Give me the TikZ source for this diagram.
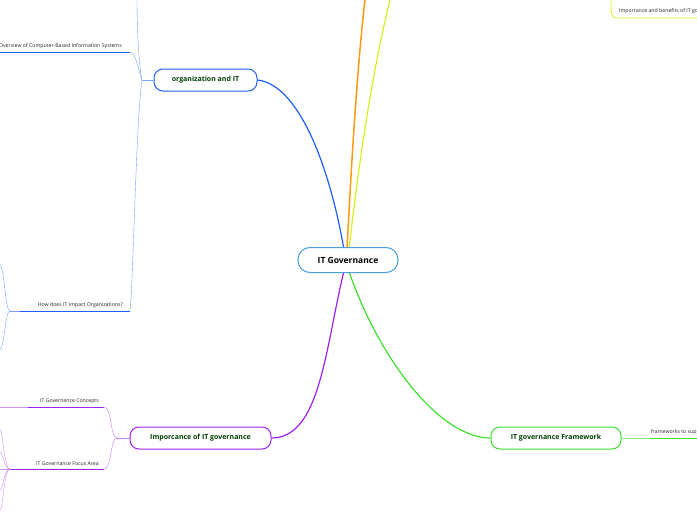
\documentclass[tikz,border=0pt]{standalone}
\usepackage{fontspec}
\setmainfont{Open Sans}
\begin{document}
\begin{tikzpicture}[x=1pt,y=-1pt,
  mainbox/.style={draw=#1,line width=1pt,rounded corners=9pt,fill=white,font=\bfseries\fontsize{7}{9}\selectfont,text=green!25!black,minimum height=22pt,inner xsep=8pt},
  lbl/.style={font=\fontsize{5.2}{6}\selectfont,text=black!85,inner sep=1pt}]
\useasboundingbox (0,0) rectangle (697,520);
\clip (0,0) rectangle (697,520);
\definecolor{cb}{HTML}{1F5FFF}\definecolor{cp}{HTML}{A020F0}\definecolor{cg}{HTML}{3FE030}
\definecolor{cy}{HTML}{D8F020}\definecolor{co}{HTML}{FF9A10}\definecolor{cc}{HTML}{4A9FD8}
% top lines
\coordinate (ot) at (365,0); \coordinate (yt) at (390,0);
\draw[co,line width=1.5pt] (347,250) .. controls (352,150) and (358,60) .. (ot);
\draw[cy,line width=1.2pt] (349,250) .. controls (360,150) and (375,60) .. (yt);
\node[mainbox=cc,text=black,minimum width=100pt,minimum height=25pt,font=\bfseries\fontsize{8.5}{11}\selectfont,rounded corners=12pt] (c) at (348,260) {IT Governance};
\node[mainbox=cb,minimum width=103pt] (org) at (205.5,80) {organization and IT};
\node[mainbox=cp,minimum width=141pt] (imp) at (200.5,438) {Imporcance of IT governance};
\node[mainbox=cg,minimum width=130pt] (fw) at (556,438) {IT governance Framework};
\draw[cb,line width=1.2pt] (c.north west)++(46,0) .. controls (330,170) and (300,85) .. (org.east);
\draw[cp,line width=1.2pt] (c.south west)++(46,0) .. controls (325,350) and (320,438) .. (imp.east);
\draw[cg,line width=1.2pt] (c.south west)++(52,0) .. controls (380,360) and (440,438) .. (fw.west);
% org children
\coordinate (oj) at (142,80);
\draw[cb!60] (org.west) -- (oj);
\draw[cb!60] (oj) .. controls (138,60) and (137,20) .. (137,0);
\draw[cb!60] (oj) .. controls (138,70) and (136,52) .. (130,52);
\draw[cb,line width=1pt] (130,52) -- (0,52);
\node[lbl,anchor=south east] (o1) at (123,50) {Overview of Computer-Based Information Systems};
\draw[cb!60] (oj) .. controls (136,120) and (133,290) .. (130,311);
\draw[cb,line width=1pt] (130,311) -- (20,311);
\draw[cb!60] (20,311) -- (10,311);
\node[lbl,anchor=south east] (o2) at (124,309) {How does IT Impact Organizations?};
\draw[cb!60] (10,311) .. controls (5,311) and (5,270) .. (0,265);
\draw[cb!60] (10,311) .. controls (5,311) and (5,345) .. (0,350);
% imp children
\coordinate (ij) at (117,438);
\draw[cp!60] (imp.west) -- (ij);
\draw[cp!60] (ij) .. controls (110,438) and (112,407) .. (104,407);
\draw[cp,line width=1pt] (104,407) -- (28,407);
\draw[cp!50] (28,407) -- (0,407);
\node[lbl,anchor=south east] (i1) at (100,405) {IT Governance Concepts};
\draw[cp!60] (ij) .. controls (110,438) and (112,469) .. (104,469);
\draw[cp,line width=1pt] (104,469) -- (10,469);
\draw[cp!50] (10,469) -- (0,469);
\node[lbl,anchor=south east] (i2) at (100,467) {IT Governance Focus Area};
\foreach \yy in {430,452,490,510}{\draw[cp!50] (10,469) .. controls (4,469) and (3,\yy) .. (0,\yy);}
% fw child
\draw[cg!60] (fw.east) -- (650,438);
\draw[cg,line width=1pt] (650,438) -- (697,438);
\node[lbl,anchor=south west] (f1) at (650,436) {frameworks to support};
% yellow child
\draw[cy,line width=0.8pt] (611,0) .. controls (611,12) and (611,18) .. (616,18) -- (697,18);
\node[lbl,anchor=south west] (y1) at (618,15) {Importance and benefits of IT governance};
\end{tikzpicture}
\end{document}
